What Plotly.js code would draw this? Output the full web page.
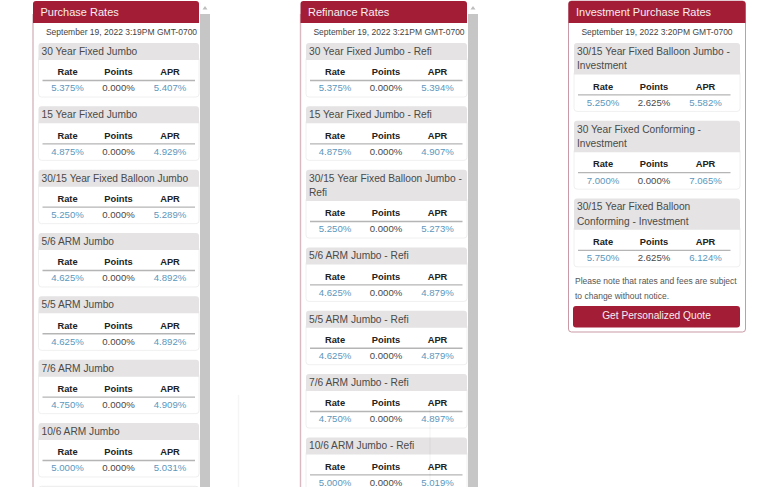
<!DOCTYPE html>
<html><head><meta charset="utf-8">
<script src="https://cdn.plot.ly/plotly-3.0.1.min.js"></script>
<style>html,body{margin:0;padding:0;background:#fff}#chart{width:768px;height:487px}</style>
</head><body><div id="chart"></div>
<script>
// ---------- data ----------
const columnLabels = ["Rate", "Points", "APR"];

const purchaseHeading = "Purchase Rates";
const purchaseStamp = "September 19, 2022 3:19PM GMT-0700";
const purchaseProducts = [["30 Year Fixed Jumbo"], ["15 Year Fixed Jumbo"], ["30/15 Year Fixed Balloon Jumbo"], ["5/6 ARM Jumbo"], ["5/5 ARM Jumbo"], ["7/6 ARM Jumbo"], ["10/6 ARM Jumbo"]];
const purchaseRate = ["5.375%", "4.875%", "5.250%", "4.625%", "4.625%", "4.750%", "5.000%"];
const purchasePoints = ["0.000%", "0.000%", "0.000%", "0.000%", "0.000%", "0.000%", "0.000%"];
const purchaseApr = ["5.407%", "4.929%", "5.289%", "4.892%", "4.892%", "4.909%", "5.031%"];

const refiHeading = "Refinance Rates";
const refiStamp = "September 19, 2022 3:21PM GMT-0700";
const refiProducts = [["30 Year Fixed Jumbo - Refi"], ["15 Year Fixed Jumbo - Refi"], ["30/15 Year Fixed Balloon Jumbo -", "Refi"], ["5/6 ARM Jumbo - Refi"], ["5/5 ARM Jumbo - Refi"], ["7/6 ARM Jumbo - Refi"], ["10/6 ARM Jumbo - Refi"]];
const refiRate = ["5.375%", "4.875%", "5.250%", "4.625%", "4.625%", "4.750%", "5.000%"];
const refiPoints = ["0.000%", "0.000%", "0.000%", "0.000%", "0.000%", "0.000%", "0.000%"];
const refiApr = ["5.394%", "4.907%", "5.273%", "4.879%", "4.879%", "4.897%", "5.019%"];

const investHeading = "Investment Purchase Rates";
const investStamp = "September 19, 2022 3:20PM GMT-0700";
const investProducts = [["30/15 Year Fixed Balloon Jumbo -", "Investment"], ["30 Year Fixed Conforming -", "Investment"], ["30/15 Year Fixed Balloon", "Conforming - Investment"]];
const investRate = ["5.250%", "7.000%", "5.750%"];
const investPoints = ["2.625%", "0.000%", "2.625%"];
const investApr = ["5.582%", "7.065%", "6.124%"];

const noteLines = ["Please note that rates and fees are subject", "to change without notice."];
const buttonLabel = "Get Personalized Quote";

// ---------- styling and page geometry ----------
const FONT = '"Liberation Sans", Arial, sans-serif';
const RED = "#a31d37", GREYHEAD = "#e5e3e3", BLUE = "#5b97bd", INK = "#484848", RULE = "#b5b5b5";

const shapes = [];
const buckets = {}; // style key -> text points
function put(style, x, y, text) {
  (buckets[style] = buckets[style] || {x: [], y: [], text: []});
  buckets[style].x.push(x); buckets[style].y.push(y + 2); buckets[style].text.push(text);
}
function rrect(x0, y0, x1, y1, r, fill, line, rt, rb) {
  const a = rt === undefined ? r : rt, b = rb === undefined ? r : rb;
  shapes.push({type: "path", xref: "x", yref: "y", layer: "below",
    path: `M${x0 + a},${y0} L${x1 - a},${y0} Q${x1},${y0} ${x1},${y0 + a} L${x1},${y1 - b} Q${x1},${y1} ${x1 - b},${y1} L${x0 + b},${y1} Q${x0},${y1} ${x0},${y1 - b} L${x0},${y0 + a} Q${x0},${y0} ${x0 + a},${y0} Z`,
    fillcolor: fill, line: line ? {color: line, width: 1} : {width: 0}});
}
function hline(x0, x1, y, color, w) {
  shapes.push({type: "line", xref: "x", yref: "y", layer: "below", x0, x1, y0: y, y1: y, line: {color, width: w}});
}

function panel(left, right, heading, stamp, products, rate, points, apr, opts) {
  const headL = left + 5.5, headR = right;
  const cols = [left + 34.5, left + 85.5, left + 137];
  if (opts.closed) {
    rrect(left, 1, opts.outerR, opts.bottom, 3, "#ffffff", "#c99aa5");
    rrect(left, 1, opts.outerR, 23, 3, RED, null, 3, 0);
  } else {
    shapes.push({type: "line", xref: "x", yref: "y", layer: "below", x0: left, x1: left, y0: 14, y1: 487, line: {color: "#d9b8bf", width: 1.4}});
    rrect(left, 1, right, 23, 3, RED, null, 3, 0);
    // scrollbar
    shapes.push({type: "rect", xref: "x", yref: "y", layer: "below", x0: right + 1, x1: right + 11, y0: 14, y1: 487, fillcolor: "#c6c6c6", line: {width: 0}});
    shapes.push({type: "path", xref: "x", yref: "y", layer: "below", path: `M${right + 6},6 L${right + 8.5},9.5 L${right + 3.5},9.5 Z`, fillcolor: "#bdbdbd", line: {width: 0}});
  }
  put("heading", left + 7.5, 11, heading);
  put("stamp", opts.stampX, 31, stamp);
  let top = 43;
  products.forEach((lines, i) => {
    const hb = top + 17 + (lines.length - 1) * 14.4;
    const cardBottom = hb + 37;
    rrect(headL, hb - 4, headR, cardBottom, 3, "#ffffff", "#f0f0f0");
    rrect(headL, top, headR, hb, 3, GREYHEAD, null, 3, 0);
    lines.forEach((t, k) => put("product", headL + 3, top + 7.4 + k * 14.4, t));
    columnLabels.forEach((c, k) => put("col", cols[k], hb + 11, c));
    hline(cols[0] - 25, cols[2] + 25, hb + 20.5, RULE, 1.4);
    put("blue", cols[0], hb + 27, rate[i]);
    put("plain", cols[1], hb + 27, points[i]);
    put("blue", cols[2], hb + 27, apr[i]);
    top = hb + 46.33;
  });
  return top;
}

const endA = panel(33, 199, purchaseHeading, purchaseStamp, purchaseProducts, purchaseRate, purchasePoints, purchaseApr, {stampX: 121.5});
const endB = panel(300.5, 467, refiHeading, refiStamp, refiProducts, refiRate, refiPoints, refiApr, {stampX: 389});
panel(568.5, 740, investHeading, investStamp, investProducts, investRate, investPoints, investApr, {closed: true, outerR: 745.5, bottom: 332, stampX: 657});
// start of the next card, cut off by the window
rrect(38.5, endA, 199, endA + 40, 3, "#ffffff", "#ececec");

noteLines.forEach((t, k) => put("note", 575, 280 + k * 14.5, t));
rrect(573, 306, 740, 327.5, 3, RED, null);
put("button", 656.5, 314, buttonLabel);

// faint screenshot seams
shapes.push({type: "line", xref: "x", yref: "y", layer: "below", x0: 238.5, x1: 238.5, y0: 395, y1: 487, line: {color: "#f5f5f5", width: 1.5}});
shapes.push({type: "line", xref: "x", yref: "y", layer: "above", x0: 430, x1: 430, y0: 405, y1: 480, line: {color: "rgba(0,0,0,0.035)", width: 1.5}});

const styles = {
  heading: {pos: "middle right", size: 11, color: "#f6eef0"},
  stamp:   {pos: "middle center", size: 8.5, color: "#444444"},
  product: {pos: "middle right", size: 10.2, color: "#4a4a4a"},
  col:     {pos: "middle center", size: 9.3, color: "#222222", bold: true},
  blue:    {pos: "middle center", size: 9.6, color: BLUE},
  plain:   {pos: "middle center", size: 9.6, color: INK},
  note:    {pos: "middle right", size: 8.5, color: "#555555"},
  button:  {pos: "middle center", size: 10.2, color: "#f7ecee"}
};

const traces = Object.keys(buckets).map(k => ({
  type: "scatter", mode: "text", name: k, hoverinfo: "skip", showlegend: false,
  x: buckets[k].x, y: buckets[k].y,
  text: styles[k].bold ? buckets[k].text.map(t => "<b>" + t + "</b>") : buckets[k].text,
  textposition: styles[k].pos, cliponaxis: true,
  textfont: {family: FONT, size: styles[k].size, color: styles[k].color}
}));

const hidden = {visible: false, fixedrange: true, showgrid: false, zeroline: false};
Plotly.newPlot("chart", traces, {
  width: 768, height: 487, margin: {l: 0, r: 0, t: 0, b: 0, pad: 0},
  paper_bgcolor: "#ffffff", plot_bgcolor: "#ffffff", showlegend: false,
  xaxis: Object.assign({range: [0, 768]}, hidden),
  yaxis: Object.assign({range: [487, 0]}, hidden),
  shapes
}, {displayModeBar: false, staticPlot: true});
</script></body></html>
